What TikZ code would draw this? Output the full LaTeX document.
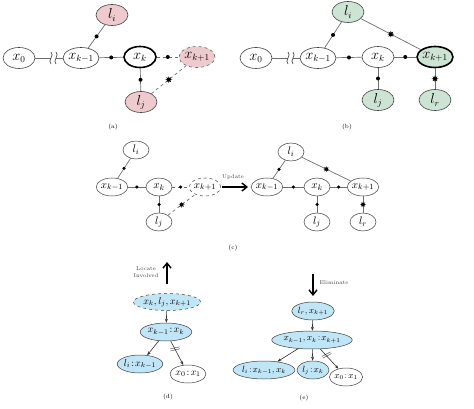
\documentclass[tikz,border=0pt]{standalone}
\usetikzlibrary{shapes.geometric,arrows.meta}
\definecolor{pinkf}{RGB}{238,202,207}
\definecolor{greenf}{RGB}{205,227,212}
\definecolor{bluef}{RGB}{192,229,246}
\definecolor{edgec}{RGB}{110,110,110}
\tikzset{
  var/.style={ellipse, draw=black!75, line width=0.6pt, minimum width=32pt, minimum height=21pt, inner sep=0pt, fill=white, font=\fontsize{13.5}{13.5}\selectfont},
  svar/.style={ellipse, draw=black!75, line width=0.5pt, minimum width=26pt, minimum height=18pt, inner sep=0pt, fill=white, font=\fontsize{11}{11}\selectfont},
  clq/.style={ellipse, draw=black!75, line width=0.5pt, minimum height=18pt, inner sep=0pt, fill=bluef, font=\fontsize{10}{10}\selectfont},
  eclq/.style={clq, font=\fontsize{8.8}{8.8}\selectfont},
  thickb/.style={line width=1.6pt, draw=black},
  edge/.style={draw=edgec, line width=0.7pt},
  fdot/.style={circle, fill=black, inner sep=0pt, minimum size=4pt},
  fstar/.style={star, star points=8, star point ratio=2.2, fill=black, inner sep=0pt, minimum size=7pt},
  bigarrow/.style={line width=1.4pt, -{Straight Barb[length=5pt,width=8pt]}},
  tarrow/.style={draw=black!80, line width=0.6pt, -{Stealth[length=4pt,width=3pt]}},
  brk/.style={sloped, inner sep=0pt, font=\fontsize{10}{10}\selectfont, rotate=-15},
  squig/.style={draw=black!80, line width=0.6pt},
  captxt/.style={font=\fontsize{6}{6}\selectfont},
  smalltxt/.style={font=\fontsize{5.5}{6.5}\selectfont, text=black!75, align=center}
}
\begin{document}
\begin{tikzpicture}[x=1pt,y=-1pt]
\useasboundingbox (0,0) rectangle (474,409);
% ---------- (a) ----------
\node[var] (ax0) at (19,58) {$x_0$};
\node[var] (axkm) at (81,58) {$x_{k-1}$};
\node[var, fill=pinkf] (ali) at (112,15) {$l_i$};
\node[var, thickb] (axk) at (140,57) {$x_k$};
\node[var, fill=pinkf, dashed, draw=black!60] (axkp) at (197,57) {$x_{k+1}$};
\node[var, fill=pinkf] (alj) at (141,102) {$l_j$};
\coordinate (abl) at (51,58);
\coordinate (abr) at (56,58);
\draw[edge] (ax0) -- (abl);
\draw[edge] (abr) -- (axkm);
\draw[squig] (51,52) .. controls (55,55) and (47,61) .. (51,64);
\draw[squig] (56,52) .. controls (60,55) and (52,61) .. (56,64);
\draw[edge] (ali) -- node[fdot]{} (axkm);
\draw[edge] (axkm) -- node[fdot]{} (axk);
\draw[edge, dashed] (axk) -- node[fdot]{} (axkp);
\draw[edge] (axk) -- node[fdot]{} (alj);
\draw[edge, dashed] (alj) -- node[fstar]{} (axkp);
\node[captxt] (capa) at (113,127) {(a)};
% ---------- (b) ----------
\node[var] (bx0) at (256,58) {$x_0$};
\node[var] (bxkm) at (318,58) {$x_{k-1}$};
\node[var, fill=greenf] (bli) at (348,12) {$l_i$};
\node[var] (bxk) at (378,57) {$x_k$};
\node[var, fill=greenf, thickb] (bxkp) at (435,57) {$x_{k+1}$};
\node[var, fill=greenf] (blj) at (378,100) {$l_j$};
\node[var, fill=greenf] (blr) at (435,100) {$l_r$};
\coordinate (bbl) at (288,58);
\coordinate (bbr) at (293,58);
\draw[edge] (bx0) -- (bbl);
\draw[edge] (bbr) -- (bxkm);
\draw[squig] (288,52) .. controls (292,55) and (284,61) .. (288,64);
\draw[squig] (293,52) .. controls (297,55) and (289,61) .. (293,64);
\draw[edge] (bli) -- node[fdot]{} (bxkm);
\draw[edge] (bxkm) -- node[fdot]{} (bxk);
\draw[edge] (bxk) -- node[fdot]{} (bxkp);
\draw[edge] (bxk) -- node[fdot]{} (blj);
\draw[edge] (bli) -- node[fstar]{} (bxkp);
\draw[edge] (bxkp) -- node[fstar]{} (blr);
\node[captxt] (capb) at (347,127) {(b)};
% ---------- (c) ----------
\node[svar] (cli) at (136,150) {$l_i$};
\node[svar] (cxkm) at (112,187) {$x_{k-1}$};
\node[svar] (cxk) at (159,187) {$x_k$};
\node[svar, dashed] (cxkp) at (205,187) {$x_{k+1}$};
\node[svar] (clj) at (159,222) {$l_j$};
\draw[edge] (cli) -- node[fdot, minimum size=3.5pt]{} (cxkm);
\draw[edge] (cxkm) -- node[fdot, minimum size=3.5pt]{} (cxk);
\draw[edge, dashed] (cxk) -- node[fdot, minimum size=3.5pt]{} (cxkp);
\draw[edge] (cxk) -- node[fdot, minimum size=3.5pt]{} (clj);
\draw[edge, dashed] (clj) -- node[fstar, minimum size=6pt]{} (cxkp);
\coordinate (ua) at (222,187);
\coordinate (ub) at (248,187);
\draw[bigarrow] (ua) -- (ub);
\node[smalltxt] (upd) at (233,177) {Update};
\node[svar] (dli) at (291,152) {$l_i$};
\node[svar] (dxkm) at (267,187) {$x_{k-1}$};
\node[svar] (dxk) at (317,187) {$x_k$};
\node[svar] (dxkp) at (363,187) {$x_{k+1}$};
\node[svar] (dlj) at (317,222) {$l_j$};
\node[svar] (dlr) at (363,222) {$l_r$};
\draw[edge] (dli) -- node[fdot, minimum size=3.5pt]{} (dxkm);
\draw[edge] (dxkm) -- node[fdot, minimum size=3.5pt]{} (dxk);
\draw[edge] (dxk) -- node[fdot, minimum size=3.5pt]{} (dxkp);
\draw[edge] (dxk) -- node[fdot, minimum size=3.5pt]{} (dlj);
\draw[edge] (dli) -- node[fstar, minimum size=6pt]{} (dxkp);
\draw[edge] (dxkp) -- node[fstar, minimum size=6pt]{} (dlr);
\node[captxt] (capc) at (233,248) {(c)};
% ---------- (d) ----------
\coordinate (la) at (167,284);
\coordinate (lb) at (167,262);
\draw[bigarrow] (la) -- (lb);
\node[smalltxt] (loc) at (146,272) {Locate\\Involved};
\node[clq, dashed, minimum width=59pt, minimum height=17pt] (e1) at (167,302) {$x_k,l_j,x_{k+1}$};
\node[clq, minimum width=46pt] (e2) at (166,332) {$x_{k-1}\!:\!x_k$};
\node[clq, minimum width=40pt] (e3) at (140,364) {$l_i\!:\!x_{k-1}$};
\node[clq, fill=white, minimum width=33pt] (e4) at (188,374) {$x_0\!:\!x_1$};
\draw[tarrow] (e1) -- (e2);
\draw[tarrow] (e2) -- (e3);
\draw[tarrow] (e2) -- node[pos=0.35, brk]{$\parallel$} (e4);
\node[captxt] (capd) at (168,397) {(d)};
% ---------- (e) ----------
\coordinate (ea) at (313,274);
\coordinate (eb) at (313,296);
\draw[bigarrow] (ea) -- (eb);
\node[smalltxt] (elim) at (334,283) {Eliminate};
\node[eclq, minimum width=38pt] (f1) at (313,311) {$l_r,x_{k+1}$};
\node[eclq, minimum width=64pt] (f2) at (312,340) {$x_{k-1},x_k\!:\!x_{k+1}$};
\node[eclq, minimum width=54pt] (f3) at (264,370) {$l_i\!:\!x_{k-1},x_k$};
\node[eclq, minimum width=32pt] (f4) at (313,370) {$l_j\!:\!x_k$};
\node[eclq, fill=white, minimum width=32pt] (f5) at (346,377) {$x_0\!:\!x_1$};
\draw[tarrow] (f1) -- (f2);
\draw[tarrow] (f2) -- (f3);
\draw[tarrow] (f2) -- (f4);
\draw[tarrow] (f2) -- node[pos=0.35, brk]{$\parallel$} (f5);
\node[captxt] (cape) at (304,398) {(e)};
\end{tikzpicture}
\end{document}
